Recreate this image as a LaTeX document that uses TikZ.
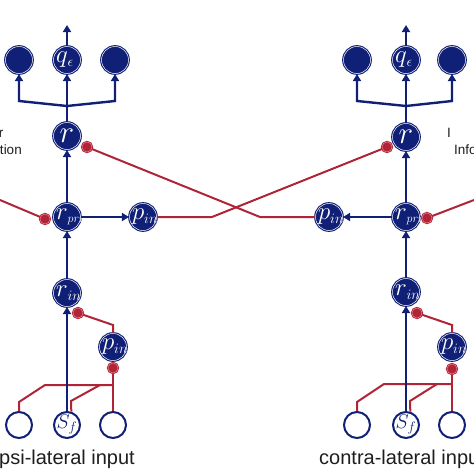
\documentclass[tikz,border=0pt]{standalone}
\usepackage{graphicx}
\usepackage{fontspec}
\setsansfont{Liberation Sans}
\usetikzlibrary{arrows.meta}
\definecolor{navy}{RGB}{16,32,118}
\definecolor{syn}{RGB}{176,36,56}
\definecolor{synring}{RGB}{240,130,140}
\definecolor{txt}{RGB}{30,30,30}
\newcommand{\nlab}[3]{\makebox[0pt][l]{\hspace*{-11pt}{\Huge$#1$}\raisebox{-3.5pt}{\fontsize{#2}{#2}\selectfont$#3$}}}
\newcommand{\blab}[1]{\makebox[0pt]{\scalebox{1.25}{\Huge$#1$}}}
\newcommand{\ilab}[1]{\makebox[0pt]{\scalebox{1.15}{$#1$}}}
\begin{document}
\begin{tikzpicture}[x=1pt,y=-1pt,
  neuron/.style={circle,fill=navy,draw=navy,line width=1.1pt,double=white,double distance=0.5pt,
    minimum size=27pt,inner sep=0pt,text=white},
  inp/.style={circle,fill=white,draw=navy,line width=2pt,minimum size=26pt,inner sep=0pt,
    text=navy,font=\LARGE},
  syndot/.style={circle,fill=syn,draw=syn,line width=0.9pt,double=synring,double distance=0.5pt,
    minimum size=10pt,inner sep=0pt},
  bl/.style={draw=navy,line width=2.4pt},
  arr/.style={bl,-{Triangle[width=8pt,length=7pt]}},
  rd/.style={draw=syn,line width=2pt},
  lbl/.style={inner sep=0pt,text=txt,font=\sffamily\fontsize{20}{20}\selectfont},
  sm/.style={inner sep=0pt,text=txt,font=\sffamily\fontsize{13.5}{13.5}\selectfont}
]
\useasboundingbox (0,0) rectangle (474,474);
\clip (0,0) rectangle (474,474);

% ---------- left column ----------
\node[neuron] (Lo1) at (19,60) {};
\node[neuron] (Lq) at (67,60) {\nlab{q}{14.4}{\epsilon}};
\node[neuron] (Lo3) at (115,60) {};
\node[neuron] (Lr) at (67,136) {\blab{r}};
\node[neuron] (Lrp) at (67,217) {\nlab{r}{12}{prior}};
\node[neuron] (Lpi) at (143,217) {\nlab{p}{14.4}{int}};
\node[neuron] (Lrin) at (67,293) {\nlab{r}{14.4}{in}};
\node[neuron] (Lpin) at (113,347) {\nlab{p}{14.4}{in}};
\node[inp] (Lb1) at (19,425) {};
\node[inp] (Lsf) at (67,425) {\ilab{S_f}};
\node[inp] (Lb3) at (113,425) {};

% ---------- right column ----------
\node[neuron] (Ro1) at (357,60) {};
\node[neuron] (Rq) at (406,60) {\nlab{q}{14.4}{\epsilon}};
\node[neuron] (Ro3) at (452,60) {};
\node[neuron] (Rr) at (406,137) {\blab{r}};
\node[neuron] (Rrp) at (406,217) {\nlab{r}{12}{prior}};
\node[neuron] (Rpi) at (329,217) {\nlab{p}{14.4}{int}};
\node[neuron] (Rrin) at (406,292) {\nlab{r}{14.4}{in}};
\node[neuron] (Rpin) at (452,347) {\nlab{p}{14.4}{in}};
\node[inp] (Rb1) at (357,425) {};
\node[inp] (Rsf) at (406,425) {\ilab{S_f}};
\node[inp] (Rb3) at (452,425) {};

% ---------- coordinates ----------
\coordinate (Ltop) at (67,25);
\coordinate (LJ) at (67,106);
\coordinate (LJa) at (19,101);
\coordinate (LJb) at (115,101);
\coordinate (Rtop) at (406,25);
\coordinate (RJ) at (406,106);
\coordinate (RJa) at (357,101);
\coordinate (RJb) at (452,101);
\coordinate (Lext) at (0,200);
\coordinate (Rext) at (474,200);

% ---------- red (inhibitory) connections ----------
\draw[rd] (Rpi) -- (260,217) -- (87,147);
\draw[rd] (Lpi) -- (212,217) -- (387,147);
\draw[rd] (Lext) -- (45,219);
\draw[rd] (Rext) -- (427,218);
\draw[rd] (78,313) -- (113,325) -- (Lpin);
\draw[rd] (417,313) -- (452,325) -- (Rpin);
\draw[rd] (113,368) -- (Lb3);
\draw[rd] (113,385) -- (45,385) -- (19,402) -- (Lb1);
\draw[rd] (100,385) -- (71,401) -- (Lsf.72);
\draw[rd] (452,369) -- (Rb3);
\draw[rd] (452,384) -- (384,384) -- (357,402) -- (Rb1);
\draw[rd] (437,384) -- (410,401) -- (Rsf.72);

% ---------- synapse dots ----------
\node[syndot] (Ldr) at (87,147) {};
\node[syndot] (Ldrp) at (45,219) {};
\node[syndot] (Ldrin) at (78,313) {};
\node[syndot] (Ldpin) at (113,368) {};
\node[syndot] (Rdr) at (387,147) {};
\node[syndot] (Rdrp) at (427,218) {};
\node[syndot] (Rdrin) at (417,313) {};
\node[syndot] (Rdpin) at (452,369) {};

% ---------- blue (excitatory) connections ----------
\draw[arr] (Lsf) -- (Lrin);
\draw[arr] (Lrin) -- (Lrp);
\draw[arr] (Lrp) -- (Lr);
\draw[arr] (Lrp) -- (Lpi);
\draw[bl] (Lr) -- (LJ);
\draw[arr] (LJ) -- (Lq);
\draw[arr] (LJ) -- (LJa) -- (Lo1);
\draw[arr] (LJ) -- (LJb) -- (Lo3);
\draw[arr] (Lq) -- (Ltop);

\draw[arr] (Rsf) -- (Rrin);
\draw[arr] (Rrin) -- (Rrp);
\draw[arr] (Rrp) -- (Rr);
\draw[arr] (Rrp) -- (Rpi);
\draw[bl] (Rr) -- (RJ);
\draw[arr] (RJ) -- (Rq);
\draw[arr] (RJ) -- (RJa) -- (Ro1);
\draw[arr] (RJ) -- (RJb) -- (Ro3);
\draw[arr] (Rq) -- (Rtop);

% ---------- texts ----------
\node[lbl,anchor=base west] (Tl) at (-1,464) {psi-lateral input};
\node[lbl,anchor=base west] (Tr) at (319,464) {contra-lateral input};
\node[sm,anchor=base] (Pl1) at (-11,137) {Prior};
\node[sm,anchor=base] (Pl2) at (-12,154) {Information};
\node[sm,anchor=base west] (Pr1) at (447,137) {I};
\node[sm,anchor=base west] (Pr2) at (454,154) {Information};
\end{tikzpicture}
\end{document}
